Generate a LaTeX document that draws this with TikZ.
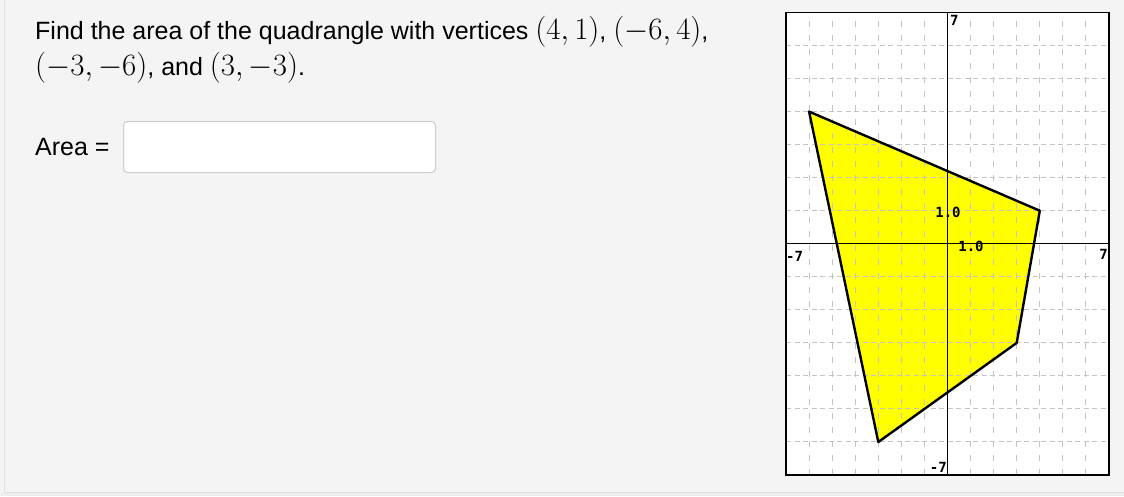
\RequirePackage{fix-cm}
\documentclass[tikz,border=0pt]{standalone}
\usepackage[no-math]{fontspec}
\setmainfont{Liberation Sans}
\newfontfamily\graphfont{DejaVu Sans Mono}
\definecolor{panelbg}{HTML}{F4F4F4}
\definecolor{panelborder}{HTML}{E0E0E0}
\definecolor{bottomband}{HTML}{EEEEEE}
\definecolor{gridgray}{HTML}{C4C4C4}
\definecolor{boxborder}{HTML}{CCCCCC}
\definecolor{quadfill}{HTML}{FFFF00}
\newcommand\mth[1]{{\fontsize{31}{36}\selectfont$#1$}}
\begin{document}
\begin{tikzpicture}[x=1pt,y=-1pt,
  qtext/.style={anchor=base west, inner sep=0pt, font=\fontsize{25}{30}\selectfont},
  gridv/.style={draw=gridgray, line width=1pt, dash pattern=on 6pt off 8pt},
  gridh/.style={draw=gridgray, line width=1pt, dash pattern=on 5pt off 3.5pt},
  axisline/.style={draw=black, line width=1pt},
  ticklab/.style={font=\graphfont\bfseries\fontsize{14}{14}\selectfont, inner sep=0pt},
  answerbox/.style={draw=boxborder, fill=white, rounded corners=4pt, line width=1pt,
    minimum width=312pt, minimum height=51pt, inner sep=0pt, anchor=north west},
]
\useasboundingbox (0,0) rectangle (1124,496);
\fill[panelbg] (0,0) rectangle (1124,496);
\fill[bottomband] (0,493) rectangle (1124,496);
\draw[panelborder, line width=1pt] (4.5,0) -- (4.5,493);
\draw[panelborder, line width=1pt] (4.5,492.5) -- (1124,492.5);

\node[qtext] (q1) at (35,39) {Find the area of the quadrangle with vertices \mth{(4,1)}, \mth{(-6,4)},};
\node[qtext] (q2) at (35,75) {\mth{(-3,-6)}, and \mth{(3,-3)}.};
\node[qtext] (arealabel) at (35,155) {Area =};
\node[answerbox] (answer) at (123,121) {};

\begin{scope}[shift={(947.5pt,-243.75pt)}, x=23.07pt, y=33.04pt]
  \fill[white] (-7,-7) rectangle (7,7);
  \coordinate (A) at (4,1);
  \coordinate (B) at (-6,4);
  \coordinate (C) at (-3,-6);
  \coordinate (D) at (3,-3);
  \fill[quadfill] (A) -- (B) -- (C) -- (D) -- cycle;
  \foreach \i in {-6,...,-1,1,2,...,6} {
    \draw[gridv] (\i,-7) -- (\i,7);
    \draw[gridh] (-7,\i) -- (7,\i);
  }
  \draw[axisline] (-7,0) -- (7,0);
  \draw[axisline] (0,-7) -- (0,7);
  \draw[line width=2.4pt, line join=round] (A) -- (B) -- (C) -- (D) -- cycle;
  \draw[line width=1.5pt] (-7,-7) rectangle (7,7);
\end{scope}

\node[ticklab, anchor=north west] (ytop) at (950,15) {7};
\node[ticklab, anchor=north west] (xleft) at (786,251) {-7};
\node[ticklab, anchor=north east] (xright) at (1108,249) {7};
\node[ticklab, anchor=south east] (ybot) at (947,473) {-7};
\node[ticklab] (ylab) at (948,212) {1.0};
\node[ticklab] (xlab) at (971,246) {1.0};
\end{tikzpicture}
\end{document}
